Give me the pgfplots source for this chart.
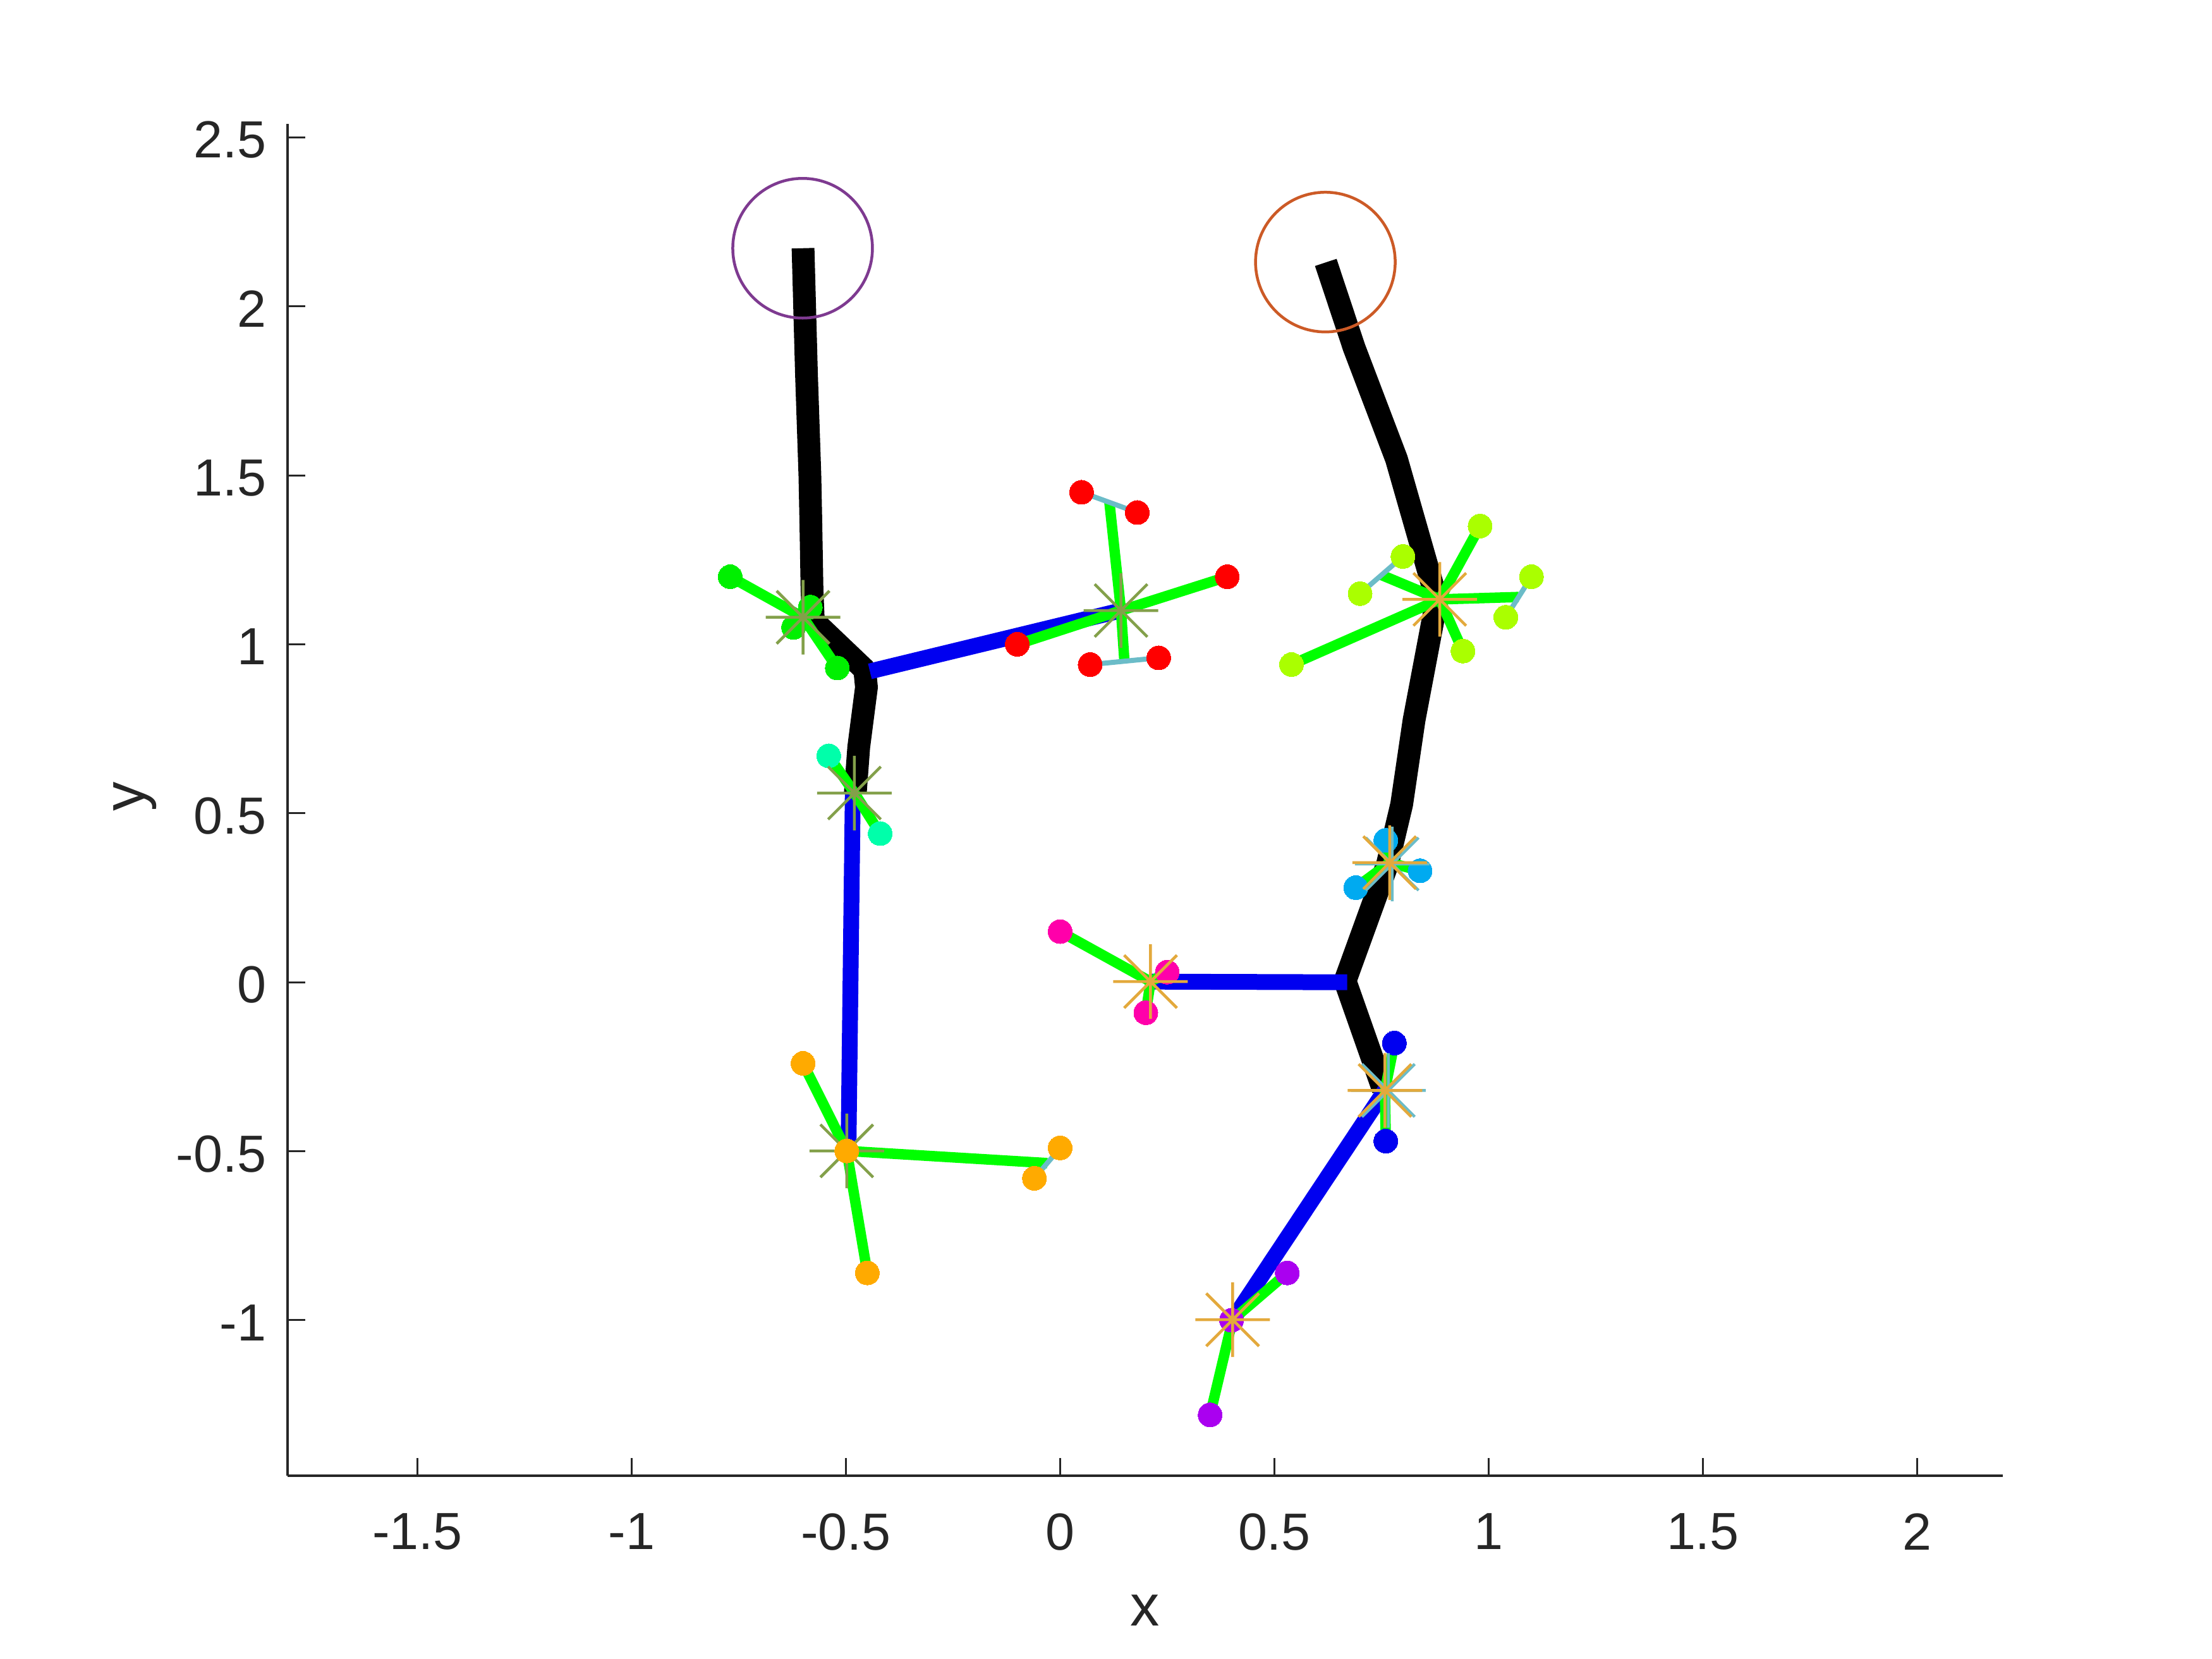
\documentclass[border=0pt]{standalone}
\usepackage{pgfplots}
\pgfplotsset{compat=1.18}
\usepackage{fontspec}
\setmainfont{Liberation Sans}
\definecolor{axc}{HTML}{262626}
\definecolor{fingergreen}{HTML}{00FF00}
\definecolor{fingerteal}{HTML}{6BBCC8}
\definecolor{limbblue}{HTML}{0000F0}
\definecolor{olv}{HTML}{83A04A}
\definecolor{org}{HTML}{E3A93C}
\definecolor{cred}{HTML}{FF0000}
\definecolor{clime}{HTML}{AAFF00}
\definecolor{cgreen}{HTML}{00F000}
\definecolor{cspring}{HTML}{00FFAA}
\definecolor{csky}{HTML}{00AAF0}
\definecolor{cblue}{HTML}{0000F0}
\definecolor{cpurple}{HTML}{AA00F0}
\definecolor{cpink}{HTML}{FF00AA}
\definecolor{corange}{HTML}{FFAA00}
\definecolor{headp}{HTML}{7E3A90}
\definecolor{heado}{HTML}{CC5A26}
\pgfdeclareplotmark{ast8}{%
  \pgfpathmoveto{\pgfqpoint{-\pgfplotmarksize}{0pt}}\pgfpathlineto{\pgfqpoint{\pgfplotmarksize}{0pt}}%
  \pgfpathmoveto{\pgfqpoint{0pt}{-\pgfplotmarksize}}\pgfpathlineto{\pgfqpoint{0pt}{\pgfplotmarksize}}%
  \pgfpathmoveto{\pgfqpoint{-0.7071\pgfplotmarksize}{-0.7071\pgfplotmarksize}}\pgfpathlineto{\pgfqpoint{0.7071\pgfplotmarksize}{0.7071\pgfplotmarksize}}%
  \pgfpathmoveto{\pgfqpoint{-0.7071\pgfplotmarksize}{0.7071\pgfplotmarksize}}\pgfpathlineto{\pgfqpoint{0.7071\pgfplotmarksize}{-0.7071\pgfplotmarksize}}%
  \pgfusepathqstroke}
\pgfplotsset{
  mybone/.style={color=black,line width=0.36cm,line join=bevel,line cap=butt,mark=none},
  mylimb/.style={color=limbblue,line width=0.25cm,line cap=butt,mark=none},
  mygline/.style={color=fingergreen,line width=0.165cm,line cap=butt,mark=none},
  mytline/.style={color=fingerteal,line width=0.08cm,line cap=butt,mark=none},
  mydots/.style={only marks,mark=*,mark size=0.19cm,mark options={draw=#1,fill=#1,line width=0pt}},
  myastr/.style={only marks,mark=ast8,mark size=0.59cm,mark options={draw=#1,line width=0.045cm}},
  myhead/.style={only marks,mark=o,mark size=1.105cm,mark options={draw=#1,fill=none,line width=0.045cm}},
}
\begin{document}
\begin{tikzpicture}
\path[use as bounding box] (0,0) rectangle (35cm,26.25cm);
\begin{axis}[
  at={(4.55cm,2.90cm)},anchor=south west,
  scale only axis,width=27.14cm,height=21.39cm,
  xmin=-1.803,xmax=2.2,ymin=-1.46,ymax=2.54,
  axis lines=left,axis line style={-,draw=axc,line width=0.033cm},
  tick style={draw=axc,line width=0.03cm},
  tick align=inside,major tick length=0.28cm,
  xtick={-1.5,-1,-0.5,0,0.5,1,1.5,2},
  xticklabels={-1.5,-1,-0.5,0,0.5,1,1.5,2},
  ytick={-1,-0.5,0,0.5,1,1.5,2,2.5},
  yticklabels={-1,-0.5,0,0.5,1,1.5,2,2.5},
  tick label style={font=\fontsize{23.5}{28}\selectfont,text=axc,inner sep=0pt},
  xticklabel shift=0.59cm,
  yticklabel shift=0.33cm,
  yticklabel style={yshift=-0.04cm},
  xlabel={x},ylabel={y},
  label style={font=\fontsize{26.3}{30}\selectfont,text=axc},
  xlabel style={at={(axis description cs:0.5,-0.0998)},anchor=center},
  ylabel style={at={(axis description cs:-0.0889,0.5025)},anchor=center},
  clip=false,
]
\addplot[myhead=headp] coordinates {(-0.601,2.172)};
\addplot[myhead=heado] coordinates {(0.619,2.131)};
\addplot[mydots=clime] coordinates {(0.98,1.35)(1.1,1.2)(1.04,1.08)(0.94,0.98)(0.7,1.15)(0.8,1.26)(0.54,0.94)};
\addplot[mydots=csky] coordinates {(0.76,0.42)(0.84,0.33)(0.69,0.28)};
\addplot[mydots=cpink] coordinates {(0,0.15)(0.2,-0.09)(0.25,0.03)};
\addplot[mydots=cblue] coordinates {(0.78,-0.18)(0.76,-0.47)};
\addplot[mydots=cpurple] coordinates {(0.53,-0.86)(0.35,-1.28)(0.4,-1)};
\addplot[mybone] coordinates {(-0.6,2.172)(-0.592,1.8)(-0.584,1.5)(-0.582,1.375)(-0.579,1.16)(-0.576,1.07)(-0.456,0.925)(-0.452,0.873)(-0.47,0.696)(-0.478,0.56)};
\addplot[mylimb] coordinates {(-0.478,0.56)(-0.484,0.55)(-0.494,-0.499)};
\addplot[mylimb] coordinates {(-0.444,0.92)(0.142,1.1)};
\addplot[mybone] coordinates {(0.62,2.13)(0.686,1.878)(0.785,1.548)(0.879,1.131)(0.826,0.776)(0.797,0.526)(0.764,0.35)(0.665,0.004)(0.754,-0.317)};
\addplot[mylimb] coordinates {(0.67,0)(0.211,0.002)};
\addplot[mylimb] coordinates {(0.758,-0.32)(0.4025,-0.9986)};
\addplot[myastr=olv] coordinates {(-0.498,-0.499)};
\addplot[mygline] coordinates {(0.142,1.1)(-0.1,1)};
\addplot[mygline] coordinates {(0.142,1.1)(0.39,1.2)};
\addplot[mygline] coordinates {(0.142,1.1)(0.115,1.42)};
\addplot[mygline] coordinates {(0.142,1.1)(0.15,0.95)};
\addplot[mytline] coordinates {(0.05,1.45)(0.18,1.39)};
\addplot[mytline] coordinates {(0.07,0.94)(0.23,0.96)};
\addplot[mygline] coordinates {(-0.6,1.08)(-0.77,1.2)};
\addplot[mygline] coordinates {(-0.6,1.08)(-0.52,0.93)};
\addplot[mytline] coordinates {(-0.583,1.11)(-0.622,1.05)};
\addplot[mygline] coordinates {(-0.48,0.56)(-0.54,0.67)};
\addplot[mygline] coordinates {(-0.48,0.56)(-0.42,0.44)};
\addplot[mygline] coordinates {(-0.498,-0.499)(-0.6,-0.24)};
\addplot[mygline] coordinates {(-0.498,-0.499)(-0.45,-0.86)};
\addplot[mygline] coordinates {(-0.498,-0.499)(-0.03,-0.535)};
\addplot[mytline] coordinates {(0,-0.49)(-0.06,-0.58)};
\addplot[mydots=cred] coordinates {(0.05,1.45)(0.18,1.39)(0.39,1.2)(-0.1,1)(0.07,0.94)(0.23,0.96)};
\addplot[mydots=cgreen] coordinates {(-0.77,1.2)(-0.583,1.11)(-0.622,1.05)(-0.52,0.93)};
\addplot[mydots=cspring] coordinates {(-0.54,0.67)(-0.42,0.44)};
\addplot[mydots=corange] coordinates {(-0.6,-0.24)(-0.45,-0.86)(0,-0.49)(-0.06,-0.58)(-0.498,-0.499)};
\addplot[mygline] coordinates {(0.886,1.133)(0.98,1.35)};
\addplot[mygline] coordinates {(0.886,1.133)(1.07,1.14)};
\addplot[mygline] coordinates {(0.886,1.133)(0.94,0.98)};
\addplot[mygline] coordinates {(0.886,1.133)(0.75,1.205)};
\addplot[mygline] coordinates {(0.886,1.133)(0.54,0.94)};
\addplot[mytline] coordinates {(1.1,1.2)(1.04,1.08)};
\addplot[mytline] coordinates {(0.7,1.15)(0.8,1.26)};
\addplot[mygline] coordinates {(0.769,0.354)(0.76,0.42)};
\addplot[mygline] coordinates {(0.769,0.354)(0.84,0.33)};
\addplot[mygline] coordinates {(0.769,0.354)(0.69,0.28)};
\addplot[mygline] coordinates {(0.211,0.002)(0,0.15)};
\addplot[mygline] coordinates {(0.211,0.002)(0.2,-0.09)};
\addplot[mygline] coordinates {(0.211,0.002)(0.25,0.03)};
\addplot[mygline] coordinates {(0.758,-0.32)(0.78,-0.18)};
\addplot[mygline] coordinates {(0.758,-0.32)(0.76,-0.47)};
\addplot[mygline] coordinates {(0.4025,-0.9986)(0.53,-0.86)};
\addplot[mygline] coordinates {(0.4025,-0.9986)(0.35,-1.28)};
\addplot[myastr=fingerteal] coordinates {(0.775,0.35)(0.766,-0.32)};
\addplot[myastr=olv] coordinates {(0.142,1.1)(-0.6,1.08)(-0.48,0.56)};
\addplot[myastr=org] coordinates {(0.886,1.133)(0.769,0.354)(0.211,0.002)(0.758,-0.32)(0.4025,-0.9986)};
\end{axis}
\end{tikzpicture}
\end{document}
